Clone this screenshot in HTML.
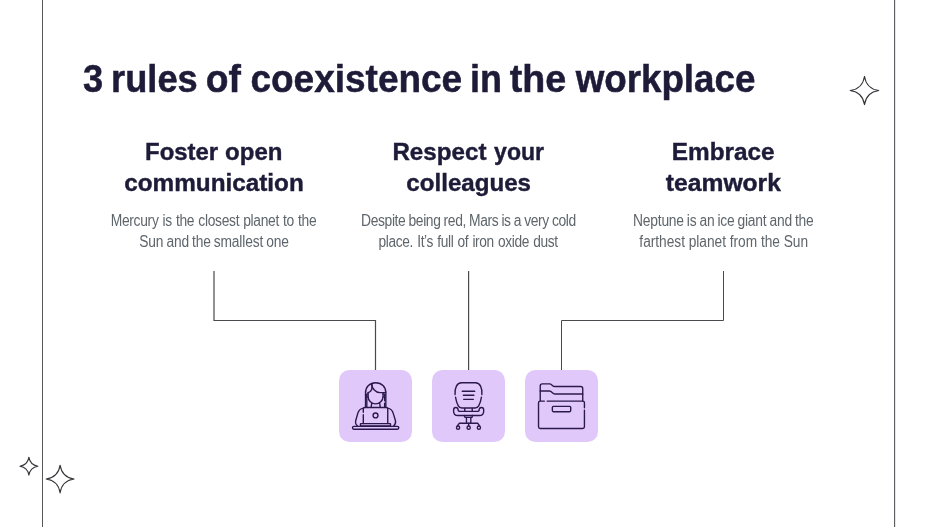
<!DOCTYPE html>
<html lang="en">
<head>
<meta charset="utf-8">
<title>3 rules of coexistence in the workplace</title>
<style>
  html, body { margin: 0; padding: 0; }
  body { width: 937px; height: 527px; overflow: hidden; background: #ffffff;
         font-family: "Liberation Sans", sans-serif; }
  .slide { position: relative; width: 937px; height: 527px; overflow: hidden; background: #ffffff; }
  .gfx { position: absolute; left: 0; top: 0; }
  /* Text is laid out word-by-word / line-by-line so the fallback font lands on the original metrics. */
  .t { position: absolute; left: 0; top: 0; width: 937px; height: 0; margin: 0; line-height: 1;
       white-space: nowrap; will-change: transform; }
  .t span { position: absolute; left: 0; top: 0; display: block; white-space: pre; transform-origin: 0 0; }
  h1.t { font-size: 38.5px; font-weight: 700; color: #1d1b38; -webkit-text-stroke: 0.5px #1d1b38; }
  h2.t { font-size: 24px; font-weight: 700; color: #1d1b38; -webkit-text-stroke: 0.4px #1d1b38; }
  p.t  { font-size: 16px; font-weight: 400; color: #5e666c; }
</style>
</head>
<body>
<main class="slide">
  <svg class="gfx" width="937" height="527" viewBox="0 0 937 527">
    <!-- frame lines and connectors -->
    <g fill="none" stroke="#4a4a4e" stroke-width="1">
      <line x1="42.5" y1="0" x2="42.5" y2="527" stroke="#58585c"/>
      <line x1="894.6" y1="0" x2="894.6" y2="527" stroke="#58585c" stroke-width="1.1"/>
      <path d="M214 271 V320.5 H375.5 V370" stroke-width="1.2"/>
      <path d="M468.6 271 V370" stroke-width="1.2"/>
      <path d="M723.5 271 V320.5 H561.5 V370"/>
    </g>
    <!-- icon tiles -->
    <g fill="#e0c8fb">
      <rect x="339" y="370" width="73" height="72" rx="10.5"/>
      <rect x="432" y="370" width="73" height="72" rx="10.5"/>
      <rect x="525" y="370" width="73" height="72" rx="10.5"/>
    </g>
    <!-- sparkles -->
    <g fill="#ffffff" stroke="#333338" stroke-width="1.05" stroke-linejoin="round">
      <path d="M864.50 76.20 C865.70 84.64 870.36 89.30 878.80 90.50 C870.36 91.70 865.70 96.36 864.50 104.80 C863.30 96.36 858.64 91.70 850.20 90.50 C858.64 89.30 863.30 84.64 864.50 76.20 Z"/>
      <path d="M60.10 465.20 C61.30 473.40 65.80 477.90 74.00 479.10 C65.80 480.30 61.30 484.80 60.10 493.00 C58.90 484.80 54.40 480.30 46.20 479.10 C54.40 477.90 58.90 473.40 60.10 465.20 Z"/>
      <path d="M28.90 457.20 C29.70 462.51 32.59 465.40 37.90 466.20 C32.59 467.00 29.70 469.89 28.90 475.20 C28.10 469.89 25.21 467.00 19.90 466.20 C25.21 465.40 28.10 462.51 28.90 457.20 Z"/>
    </g>
    <!-- icon 1: person at laptop -->
    <g transform="translate(348 378) scale(0.10627)" fill="none" stroke="#2b184c" stroke-width="13" stroke-linecap="round" stroke-linejoin="round">
      <path d="M165 272 V140 C165 82 205 45 261 45 C317 45 356 82 356 140 V272"/>
      <path d="M223 56 C229 85 228 110 212 125 C205 132 198 135 190 138"/>
      <path d="M223 56 C225 100 260 138 300 138 H354"/>
      <path d="M189 138 V172 C189 215 222 243 259 243 C296 243 330 215 330 172 V140"/>
      <path d="M189 152 H176 V178 H189 M330 152 H345 V178 H330"/>
      <path d="M177 178 V272 M345 178 V214 M345 236 V272"/>
      <path d="M223 238 L218 274 M298 238 L304 274"/>
      <path d="M144 284 C112 288 98 310 90 340 L73 400 C68 420 74 440 90 452"/>
      <path d="M374 284 C406 288 420 310 428 340 L446 400 C451 420 445 440 429 452"/>
      <path d="M144 428 V345 M144 322 V292 Q144 278 158 278 H360 Q374 278 374 292 V428"/>
      <circle cx="259" cy="352" r="23"/>
      <rect x="117" y="429" width="283" height="21" rx="4"/>
      <rect x="42" y="455" width="436" height="27" rx="13"/>
    </g>
    <!-- icon 2: office chair -->
    <g transform="translate(440 378) scale(0.10627)" fill="none" stroke="#2b184c" stroke-width="13" stroke-linecap="round" stroke-linejoin="round">
      <path d="M142 156 C137 92 160 45 202 45 H334 C376 45 399 92 394 156"/>
      <path d="M146 180 C151 212 160 240 172 262 C179 275 190 282 206 282 H330 C346 282 357 275 364 262 C376 240 385 212 390 180"/>
      <path d="M209 125 H327 M220 162 H319 M223 201 H314"/>
      <path d="M128 300 C128 286 137 277 149 277 C162 277 170 287 170 299 C170 309 177 314 189 314 H350 C362 314 369 309 369 299 C369 287 377 277 390 277 C402 277 411 286 411 300 V312 C411 338 395 353 370 353 H169 C144 353 128 338 128 312 Z"/>
      <path d="M233 286 V314 M303 286 V314"/>
      <path d="M228 353 L236 371 H300 L306 353"/>
      <path d="M249 371 V426 M290 371 V426"/>
      <path d="M165 449 L181 426 H356 L371 449"/>
      <path d="M269.500 426 V449"/>
      <circle cx="170" cy="467" r="15"/>
      <circle cx="269.500" cy="467" r="15"/>
      <circle cx="366" cy="467" r="15"/>
    </g>
    <!-- icon 3: file box -->
    <g transform="translate(533 378) scale(0.10627)" fill="none" stroke="#2b184c" stroke-width="13" stroke-linecap="round" stroke-linejoin="round">
      <path d="M68 215 V75 Q68 55 88 55 H155 C178 55 182 80 206 80 H448 Q468 80 468 100 V215"/>
      <path d="M68 122 H155 C178 122 182 150 206 150 H468"/>
      <path d="M134 218 H468 Q484 218 484 234 V280 M484 304 V459 Q484 475 468 475 H68 Q52 475 52 459 V234 Q52 218 68 218 H106"/>
      <rect x="182" y="267" width="173" height="50" rx="10"/>
    </g>
  </svg>

  <header>
    <h1 class="t"><span style="transform:translate(83.08px,60px) scaleX(0.9418)">3</span> <span style="transform:translate(111.11px,60px) scaleX(0.9406)">rules</span> <span style="transform:translate(205.74px,60px) scaleX(0.9656)">of</span> <span style="transform:translate(250.47px,60px) scaleX(0.9603)">coexistence</span> <span style="transform:translate(469.92px,60px) scaleX(0.9358)">in</span> <span style="transform:translate(509.69px,60px) scaleX(0.9778)">the</span> <span style="transform:translate(575.70px,60px) scaleX(0.9541)">workplace</span></h1>
  </header>

  <section class="rule">
    <h2 class="t"><span style="transform:translate(145.10px,140px) scaleX(0.9959)">Foster</span> <span style="transform:translate(225.11px,140px) scaleX(0.9996)">open</span> <span style="transform:translate(124.24px,171px) scaleX(1.0123)">communication</span></h2>
    <p class="t"><span style="transform:translate(110.71px,213px) scaleX(0.8645); letter-spacing:-0.36px; word-spacing:0.60px">Mercury is the closest planet to the</span> <span style="transform:translate(139.26px,234px) scaleX(0.8614); letter-spacing:-0.18px; word-spacing:-0.70px">Sun and the smallest one</span></p>
  </section>
  <section class="rule">
    <h2 class="t"><span style="transform:translate(392.41px,140px) scaleX(1.0071)">Respect</span> <span style="transform:translate(494.10px,140px) scaleX(0.9598)">your</span> <span style="transform:translate(406.35px,171px) scaleX(1.0048)">colleagues</span></h2>
    <p class="t"><span style="transform:translate(361.12px,213px) scaleX(0.8651); letter-spacing:-0.44px; word-spacing:-0.40px">Despite being red, Mars is a very cold</span> <span style="transform:translate(378.50px,234px) scaleX(0.8565); letter-spacing:-0.40px; word-spacing:0.80px">place. It’s full of iron oxide dust</span></p>
  </section>
  <section class="rule">
    <h2 class="t"><span style="transform:translate(671.80px,140px) scaleX(1.0141)">Embrace</span> <span style="transform:translate(665.85px,171px) scaleX(1.0269)">teamwork</span></h2>
    <p class="t"><span style="transform:translate(633.01px,213px) scaleX(0.8640); letter-spacing:-0.24px; word-spacing:-0.70px">Neptune is an ice giant and the</span> <span style="transform:translate(639.33px,234px) scaleX(0.8577); letter-spacing:-0.02px; word-spacing:-0.05px">farthest planet from the Sun</span></p>
  </section>
</main>
</body>
</html>
